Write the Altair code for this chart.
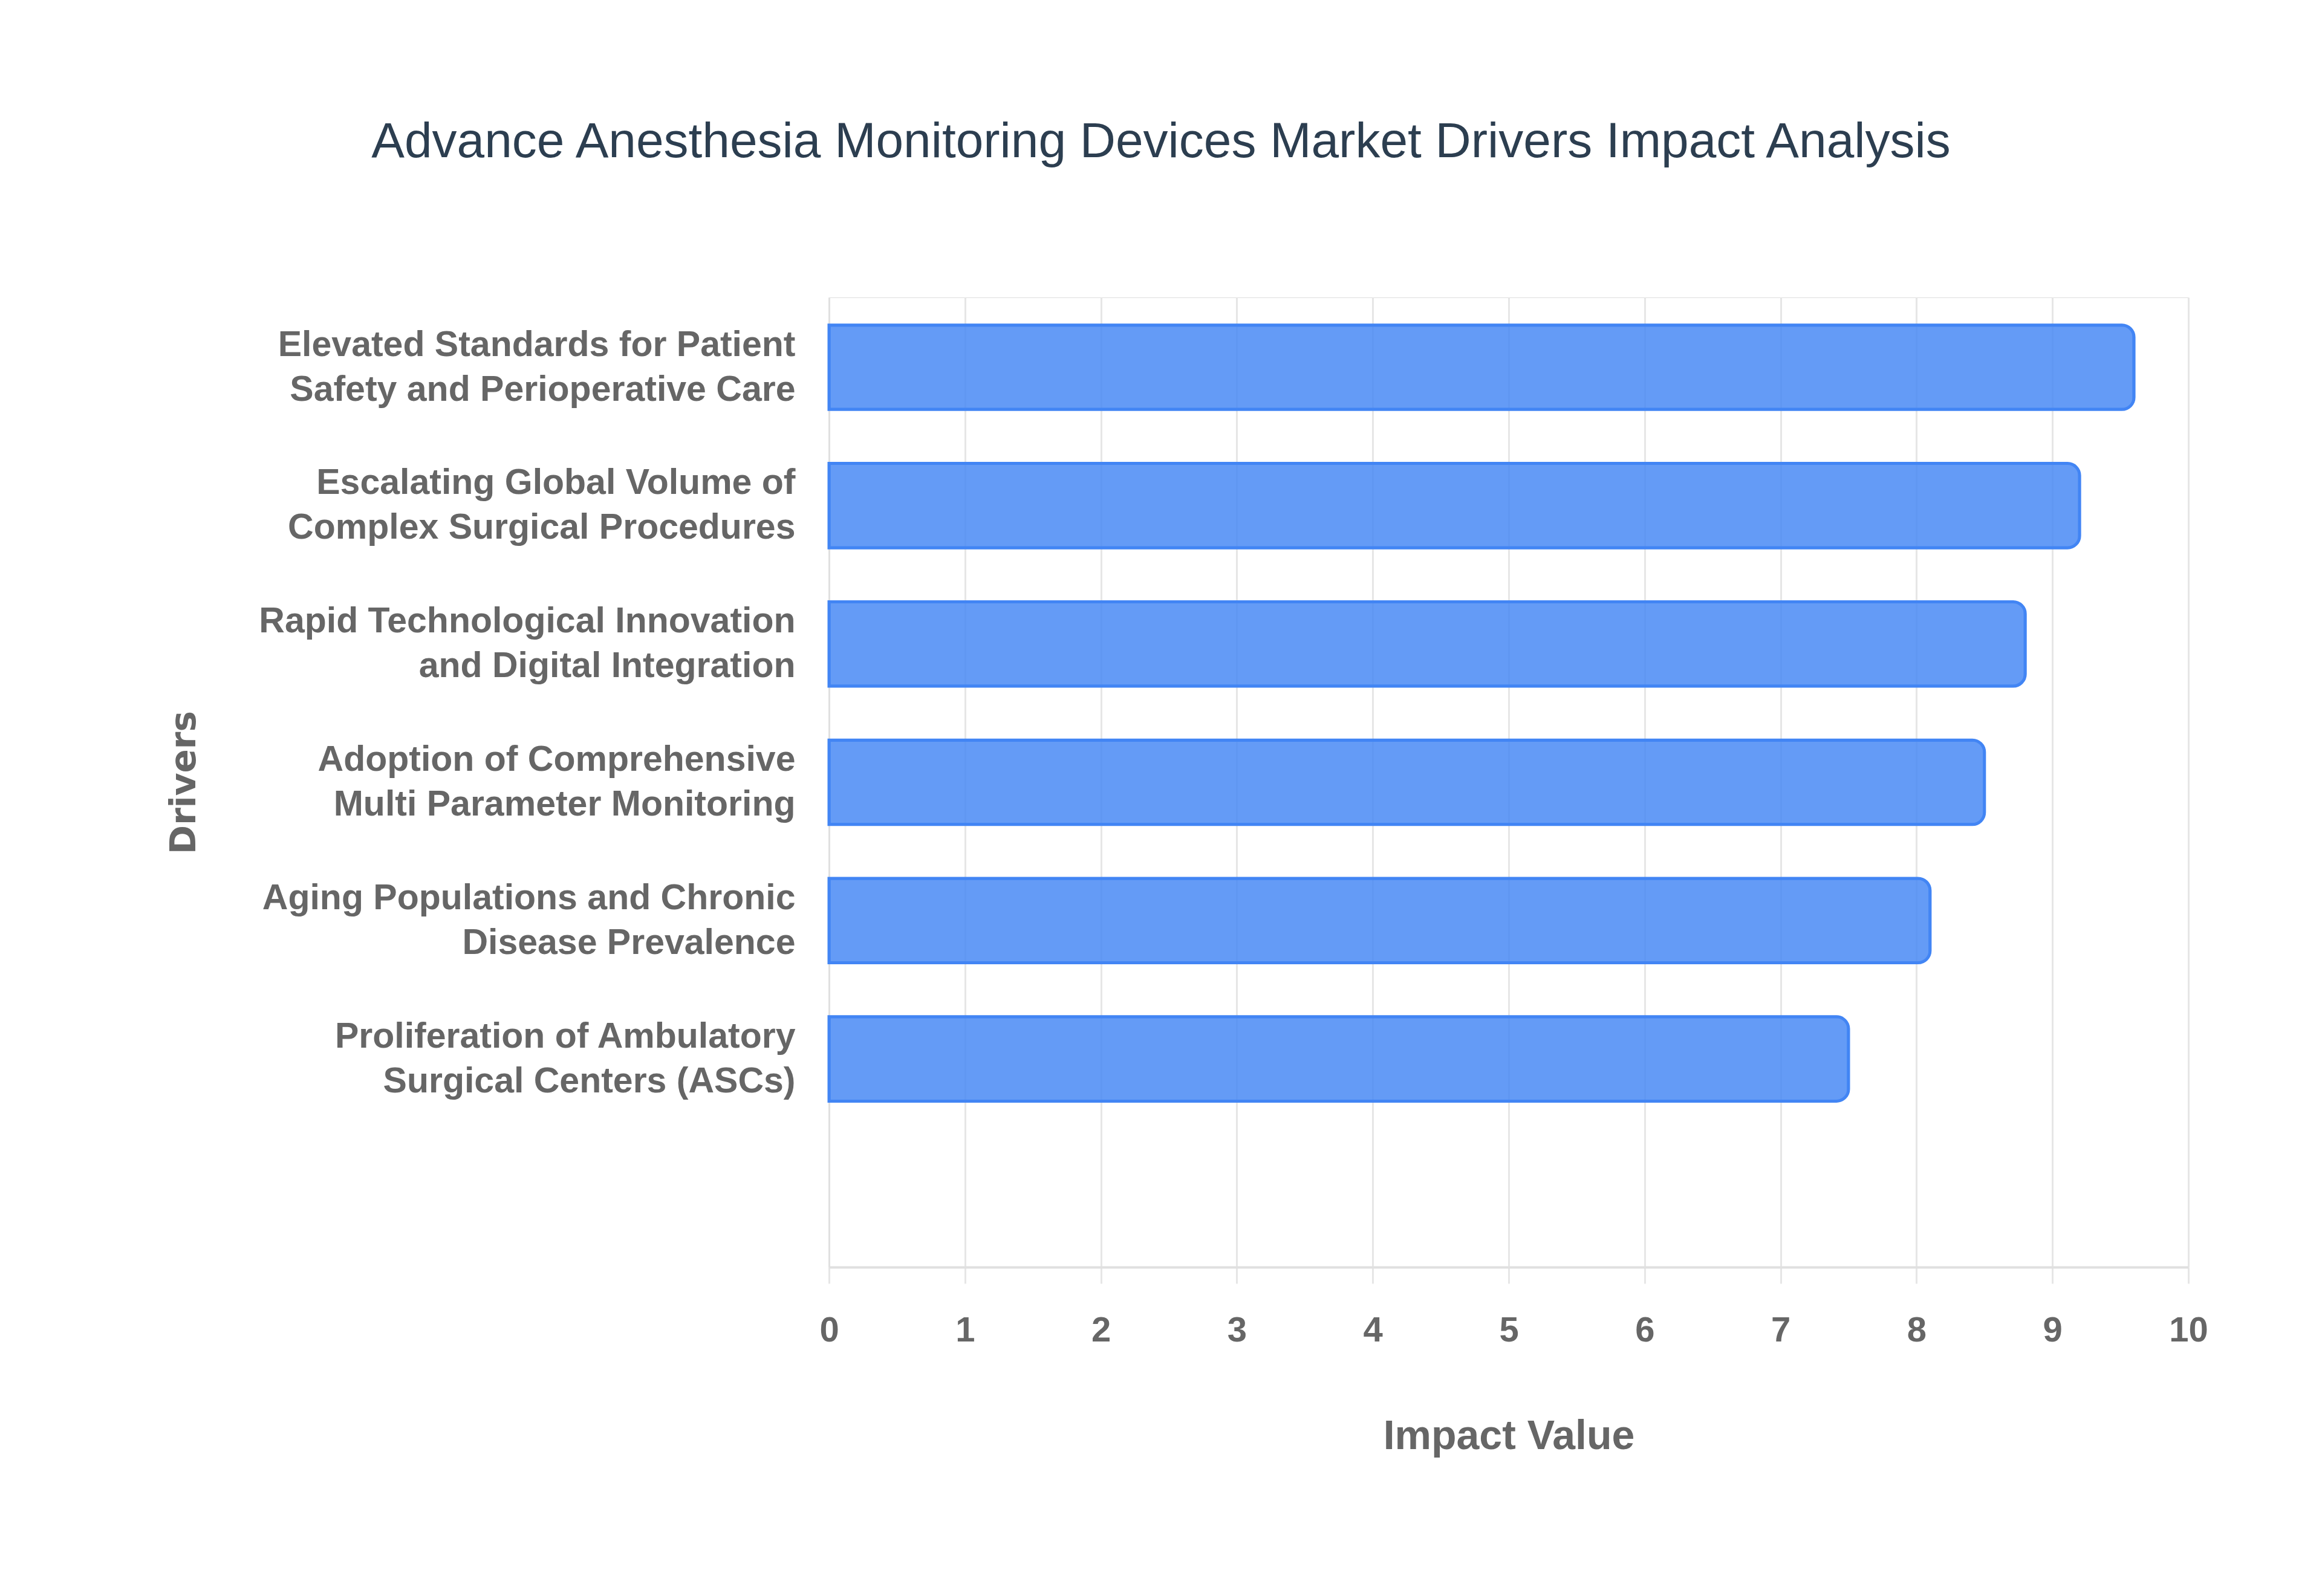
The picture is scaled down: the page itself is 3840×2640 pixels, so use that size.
import altair as alt
import pandas as pd

line1 = [
    "Elevated Standards for Patient",
    "Escalating Global Volume of",
    "Rapid Technological Innovation",
    "Adoption of Comprehensive",
    "Aging Populations and Chronic",
    "Proliferation of Ambulatory",
]
line2 = [
    "Safety and Perioperative Care",
    "Complex Surgical Procedures",
    "and Digital Integration",
    "Multi Parameter Monitoring",
    "Disease Prevalence",
    "Surgical Centers (ASCs)",
]
impact = [9.6, 9.2, 8.8, 8.5, 8.1, 7.5]
x_ticks = list(range(0, 11))

drivers = [a + "\n" + b for a, b in zip(line1, line2)]
domain = drivers + ["_blank"]

df = pd.DataFrame({"Driver": drivers, "Impact": impact})

FONT = "'Liberation Sans', Arial, sans-serif"

chart = (
    alt.Chart(df)
    .mark_bar(
        color="#4285F4",
        fillOpacity=0.82,
        stroke="#4285F4",
        strokeWidth=5,
        cornerRadiusEnd=20,
    )
    .encode(
        x=alt.X(
            "Impact:Q",
            scale=alt.Scale(domain=[0, 10], nice=False),
            axis=alt.Axis(
                title="Impact Value",
                values=x_ticks,
                format="d",
                grid=True,
                gridColor="#e6e6e6",
                gridWidth=3,
                domain=True,
                domainColor="#e0e0e0",
                domainWidth=4,
                ticks=True,
                tickColor="#e6e6e6",
                tickWidth=3,
                tickSize=27,
                labelFlush=False,
                labelFont=FONT,
                labelFontSize=58,
                labelFontWeight="bold",
                labelColor="#666666",
                labelPadding=49,
                titleFont=FONT,
                titleFontSize=68,
                titleFontWeight="bold",
                titleColor="#666666",
                titleX=1124,
                titleY=280,
                titleBaseline="middle",
                titleAnchor="middle",
            ),
        ),
        y=alt.Y(
            "Driver:N",
            scale=alt.Scale(domain=domain, paddingInner=0.39, paddingOuter=0.2),
            axis=alt.Axis(
                title="Drivers",
                labelExpr="datum.label == '_blank' ? '' : split(datum.label, '\\n')",
                labelLimit=0,
                labelFont=FONT,
                labelFontSize=59,
                labelLineHeight=74,
                labelFontWeight="bold",
                labelColor="#666666",
                labelPadding=56,
                labelAlign="right",
                labelBaseline="middle",
                labelOffset=-37,
                grid=False,
                ticks=False,
                domain=True,
                domainColor="#e0e0e0",
                domainWidth=3,
                titleFont="DejaVu Sans",
                titleFontSize=58,
                titleFontWeight="bold",
                titleColor="#666666",
                titleAngle=270,
                titleX=-1066,
                titleY=802,
                titleBaseline="middle",
                titleAlign="center",
            ),
        ),
    )
    .properties(
        width=2248,
        height=1604,
        autosize=alt.AutoSizeParams(type="none"),
        padding={"left": 1363, "top": 484, "right": 213, "bottom": 536},
        title=alt.TitleParams(
            text="Advance Anesthesia Monitoring Devices Market Drivers Impact Analysis",
            font=FONT,
            fontSize=82,
            fontWeight="normal",
            color="#2C3E50",
            anchor="middle",
            dx=-575,
            offset=175,
            baseline="middle",
        ),
    )
    .configure_view(stroke=None)
    .configure(background="white")
)

chart.save("out.html", embed_options={"renderer": "svg", "actions": False})
